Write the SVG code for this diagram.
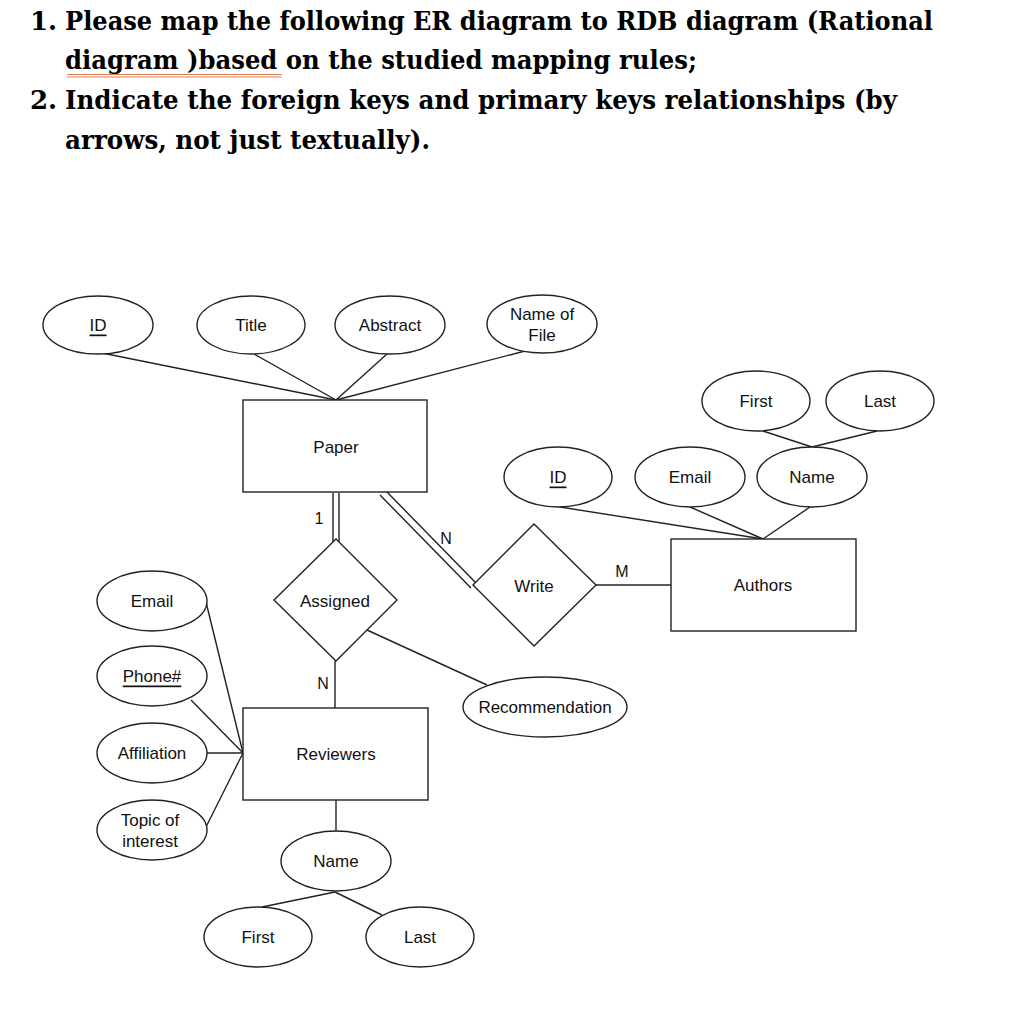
<svg xmlns="http://www.w3.org/2000/svg" width="1024" height="1012" viewBox="0 0 1024 1012">
<style>
.hd{font-family:"DejaVu Serif","Liberation Serif",serif;font-weight:bold;font-size:26px;fill:#000}
.t{font-family:"Liberation Sans",Arial,sans-serif;font-size:17px;fill:#111;text-anchor:middle;dominant-baseline:central}
.c{font-family:"Liberation Sans",Arial,sans-serif;font-size:16px;fill:#111;text-anchor:middle;dominant-baseline:central}
.sh{fill:#fff;stroke:#222;stroke-width:1.4}
.ln{stroke:#222;stroke-width:1.4;fill:none}
.u{text-decoration:underline}
</style>
<rect width="1024" height="1012" fill="#fff"/>
<g id="header">
<text class="hd" x="30" y="30">1.</text>
<text class="hd" x="65" y="30" textLength="868" lengthAdjust="spacingAndGlyphs">Please map the following ER diagram to RDB diagram (Rational</text>
<text class="hd" x="65" y="69" textLength="632" lengthAdjust="spacingAndGlyphs">diagram )based on the studied mapping rules;</text>
<line x1="67" y1="74.5" x2="282" y2="74.5" stroke="#e07b4f" stroke-width="1"/>
<line x1="67" y1="77" x2="282" y2="77" stroke="#e07b4f" stroke-width="1"/>
<text class="hd" x="30" y="109">2.</text>
<text class="hd" x="65" y="109" textLength="832" lengthAdjust="spacingAndGlyphs">Indicate the foreign keys and primary keys relationships (by</text>
<text class="hd" x="65" y="149" textLength="365" lengthAdjust="spacingAndGlyphs">arrows, not just textually).</text>
</g>
<g id="connectors">
<line class="ln" x1="102" y1="353" x2="336" y2="400"/>
<line class="ln" x1="254" y1="354" x2="336" y2="400"/>
<line class="ln" x1="387" y1="354" x2="336" y2="400"/>
<line class="ln" x1="525" y1="351" x2="336" y2="400"/>
<line class="ln" x1="763" y1="431" x2="812" y2="447"/>
<line class="ln" x1="877" y1="431" x2="812" y2="447"/>
<line class="ln" x1="560" y1="507" x2="763" y2="539"/>
<line class="ln" x1="690" y1="507" x2="763" y2="539"/>
<line class="ln" x1="810" y1="507" x2="763" y2="539"/>
<line class="ln" x1="333" y1="493" x2="333" y2="542"/>
<line class="ln" x1="339" y1="493" x2="339" y2="542"/>
<line class="ln" x1="380" y1="495" x2="471" y2="588" stroke="#444"/>
<line class="ln" x1="386" y1="491" x2="476" y2="583" stroke="#444"/>
<line class="ln" x1="596" y1="585" x2="671" y2="585"/>
<line class="ln" x1="335" y1="661" x2="335" y2="708"/>
<line class="ln" x1="367" y1="630" x2="487" y2="685"/>
<line class="ln" x1="336" y1="800" x2="336" y2="831"/>
<line class="ln" x1="335" y1="892" x2="262" y2="907"/>
<line class="ln" x1="335" y1="892" x2="382" y2="915"/>
<line class="ln" x1="206" y1="602" x2="243" y2="753"/>
<line class="ln" x1="191" y1="700" x2="243" y2="753"/>
<line class="ln" x1="207" y1="753" x2="243" y2="753"/>
<line class="ln" x1="206" y1="827" x2="243" y2="753"/>
<text class="c" x="319" y="518">1</text>
<text class="c" x="446" y="538">N</text>
<text class="c" x="622" y="571">M</text>
<text class="c" x="323" y="683">N</text>
</g>
<g id="paper-id"><ellipse class="sh" cx="98" cy="325" rx="55" ry="29"/><text class="t u" x="98" y="325">ID</text></g>
<g id="paper-title"><ellipse class="sh" cx="251" cy="325" rx="54" ry="29"/><text class="t" x="251" y="325">Title</text></g>
<g id="paper-abstract"><ellipse class="sh" cx="390" cy="325" rx="55" ry="29"/><text class="t" x="390" y="325">Abstract</text></g>
<g id="paper-namefile"><ellipse class="sh" cx="542" cy="324" rx="55" ry="29"/><text class="t" x="542" y="314">Name of</text><text class="t" x="542" y="335">File</text></g>
<g id="paper"><rect class="sh" x="243" y="400" width="184" height="92"/><text class="t" x="336" y="447">Paper</text></g>
<g id="assigned"><polygon class="sh" points="336,539 397,600 336,661 274,600"/><text class="t" x="335" y="601">Assigned</text></g>
<g id="write"><polygon class="sh" points="534,524 596,585 534,646 473,585" stroke="#808080"/><text class="t" x="534" y="586">Write</text></g>
<g id="author-first"><ellipse class="sh" cx="756" cy="401" rx="54" ry="30"/><text class="t" x="756" y="401">First</text></g>
<g id="author-last"><ellipse class="sh" cx="880" cy="401" rx="54" ry="30"/><text class="t" x="880" y="401">Last</text></g>
<g id="author-id"><ellipse class="sh" cx="558" cy="477" rx="54" ry="30"/><text class="t u" x="558" y="477">ID</text></g>
<g id="author-email"><ellipse class="sh" cx="690" cy="477" rx="55" ry="30"/><text class="t" x="690" y="477">Email</text></g>
<g id="author-name"><ellipse class="sh" cx="812" cy="477" rx="55" ry="30"/><text class="t" x="812" y="477">Name</text></g>
<g id="authors"><rect class="sh" x="671" y="539" width="185" height="92"/><text class="t" x="763" y="585">Authors</text></g>
<g id="rev-email"><ellipse class="sh" cx="152" cy="601" rx="55" ry="30"/><text class="t" x="152" y="601">Email</text></g>
<g id="rev-phone"><ellipse class="sh" cx="152" cy="676" rx="55" ry="30"/><text class="t u" x="152" y="676">Phone#</text></g>
<g id="rev-affiliation"><ellipse class="sh" cx="152" cy="753" rx="55" ry="30"/><text class="t" x="152" y="753">Affiliation</text></g>
<g id="rev-topic"><ellipse class="sh" cx="152" cy="830" rx="55" ry="30"/><text class="t" x="150" y="820">Topic of</text><text class="t" x="150" y="841">interest</text></g>
<g id="recommendation"><ellipse class="sh" cx="545" cy="707" rx="82" ry="30"/><text class="t" x="545" y="707">Recommendation</text></g>
<g id="reviewers"><rect class="sh" x="243" y="708" width="185" height="92"/><text class="t" x="336" y="754">Reviewers</text></g>
<g id="rev-name"><ellipse class="sh" cx="336" cy="861" rx="55" ry="30"/><text class="t" x="336" y="861">Name</text></g>
<g id="rev-first"><ellipse class="sh" cx="258" cy="937" rx="54" ry="30"/><text class="t" x="258" y="937">First</text></g>
<g id="rev-last"><ellipse class="sh" cx="420" cy="937" rx="54" ry="30"/><text class="t" x="420" y="937">Last</text></g>
</svg>
